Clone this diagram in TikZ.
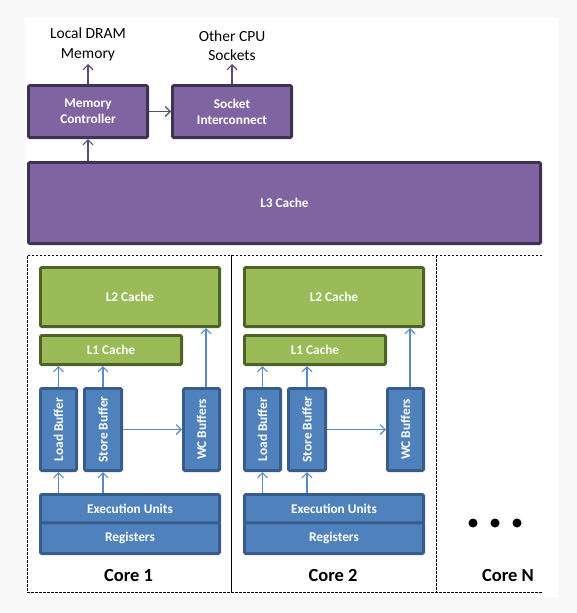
\documentclass[tikz,border=0pt]{standalone}
\usepackage{fontspec}
\setmainfont{Carlito}
\usepackage{graphicx}
\usetikzlibrary{arrows.meta}
\definecolor{pfill}{HTML}{8064A2}
\definecolor{pdraw}{HTML}{3F3151}
\definecolor{parr}{HTML}{5C4A72}
\definecolor{gfill}{HTML}{9BBB59}
\definecolor{gdraw}{HTML}{4F6228}
\definecolor{bfill}{HTML}{4F81BD}
\definecolor{bdraw}{HTML}{385D8A}
\definecolor{barr}{HTML}{5A8AC6}
\definecolor{pagebg}{HTML}{F9F9F9}
\newcommand\mkbox[7]{\node[#6, minimum width={(#4)-(#2)-2.8}, minimum height={(#5)-(#3)-2.8}] (#1) at ({((#2)+(#4))/2},{((#3)+(#5))/2}) {#7};}
\begin{document}
\begin{tikzpicture}[x=1pt,y=-1pt,
  boxbase/.style={rectangle, line width=2.8pt, rounded corners=1.2pt, inner sep=0pt, text=white, font=\bfseries\fontsize{13.3}{16}\selectfont, align=center},
  purplebox/.style={boxbase, fill=pfill, draw=pdraw},
  greenbox/.style={boxbase, fill=gfill, draw=gdraw},
  bluebox/.style={boxbase, fill=bfill, draw=bdraw},
  parrow/.style={draw=parr, line width=1.2pt, -{Straight Barb[length=5pt,width=10pt]}},
  barrow/.style={draw=barr, line width=1.1pt, -{Straight Barb[length=5pt,width=10pt]}},
  outlabel/.style={font=\fontsize{15.5}{19.4}\selectfont, align=center, inner xsep=0pt, inner ysep=3pt, anchor=south},
  corelabel/.style={font=\bfseries\fontsize{18.5}{22}\selectfont, anchor=base, inner sep=0pt},
  coreline/.style={line width=0.9pt, dash pattern=on 2.5pt off 1.5pt},
  dotmark/.style={fill=black}
]
\useasboundingbox (0,0) rectangle (577,613);
\fill[pagebg] (0,0) rectangle (577,613);
\fill[white] (25,18) rectangle (558,597);

% top section
\mkbox{mc}{27}{84}{149}{139}{purplebox}{Memory\\Controller}
\mkbox{si}{171}{84}{293}{139}{purplebox}{Socket\\Interconnect}
\mkbox{lthree}{27}{161}{542}{245}{purplebox}{L3 Cache}
\node[outlabel] (dram) at (88,64) {Local DRAM\\Memory};
\node[outlabel] (cpus) at (232,64) {Other CPU\\Sockets};
\draw[parrow] (mc.north) -- (dram.south);
\draw[parrow] (si.north) -- (cpus.south);
\draw[parrow] (mc.east) -- (si.west);
\draw[parrow] (mc.south |- lthree.north) -- (mc.south);

% core frames
\draw[coreline] (542,255) -- (27,255) -- (27,592) -- (542,592);
\draw[line width=0.9pt] (231,255) -- (231,592);
\draw[coreline] (436,255) -- (436,592);

% cores
\foreach \o/\n in {0/1,204/2}{
  \mkbox{ltwo\n}{39+\o}{266}{221+\o}{328}{greenbox}{L2 Cache}
  \mkbox{lone\n}{39+\o}{334}{183+\o}{366}{greenbox}{L1 Cache}
  \mkbox{lb\n}{39+\o}{387}{78+\o}{472}{bluebox}{\rotatebox{90}{Load Buffer}}
  \mkbox{sb\n}{83+\o}{387}{123+\o}{472}{bluebox}{\rotatebox{90}{Store Buffer}}
  \mkbox{wc\n}{182+\o}{387}{221+\o}{472}{bluebox}{\rotatebox{90}{WC Buffers}}
  \mkbox{eu\n}{39+\o}{493}{221+\o}{524.4}{bluebox}{Execution Units}
  \mkbox{rg\n}{39+\o}{521.6}{221+\o}{555}{bluebox}{Registers}
  \draw[barrow] (lb\n.north) -- (lb\n.north |- lone\n.south);
  \draw[barrow] (sb\n.north) -- (sb\n.north |- lone\n.south);
  \draw[barrow] ([xshift=4.5pt]wc\n.north) -- ([xshift=4.5pt]wc\n.north |- ltwo\n.south);
  \draw[barrow] (sb\n.east) -- (wc\n.west);
  \draw[barrow] (lb\n.south |- eu\n.north) -- (lb\n.south);
  \draw[barrow] (sb\n.south |- eu\n.north) -- (sb\n.south);
}
\node[corelabel] (core1) at (128.5,581) {Core 1};
\node[corelabel] (core2) at (333,581) {Core 2};
\node[corelabel] (coreN) at (508,581) {Core N};
\fill[dotmark] (473,523) circle (4.5);
\fill[dotmark] (495,523) circle (4.5);
\fill[dotmark] (517,523) circle (4.5);
\end{tikzpicture}
\end{document}
